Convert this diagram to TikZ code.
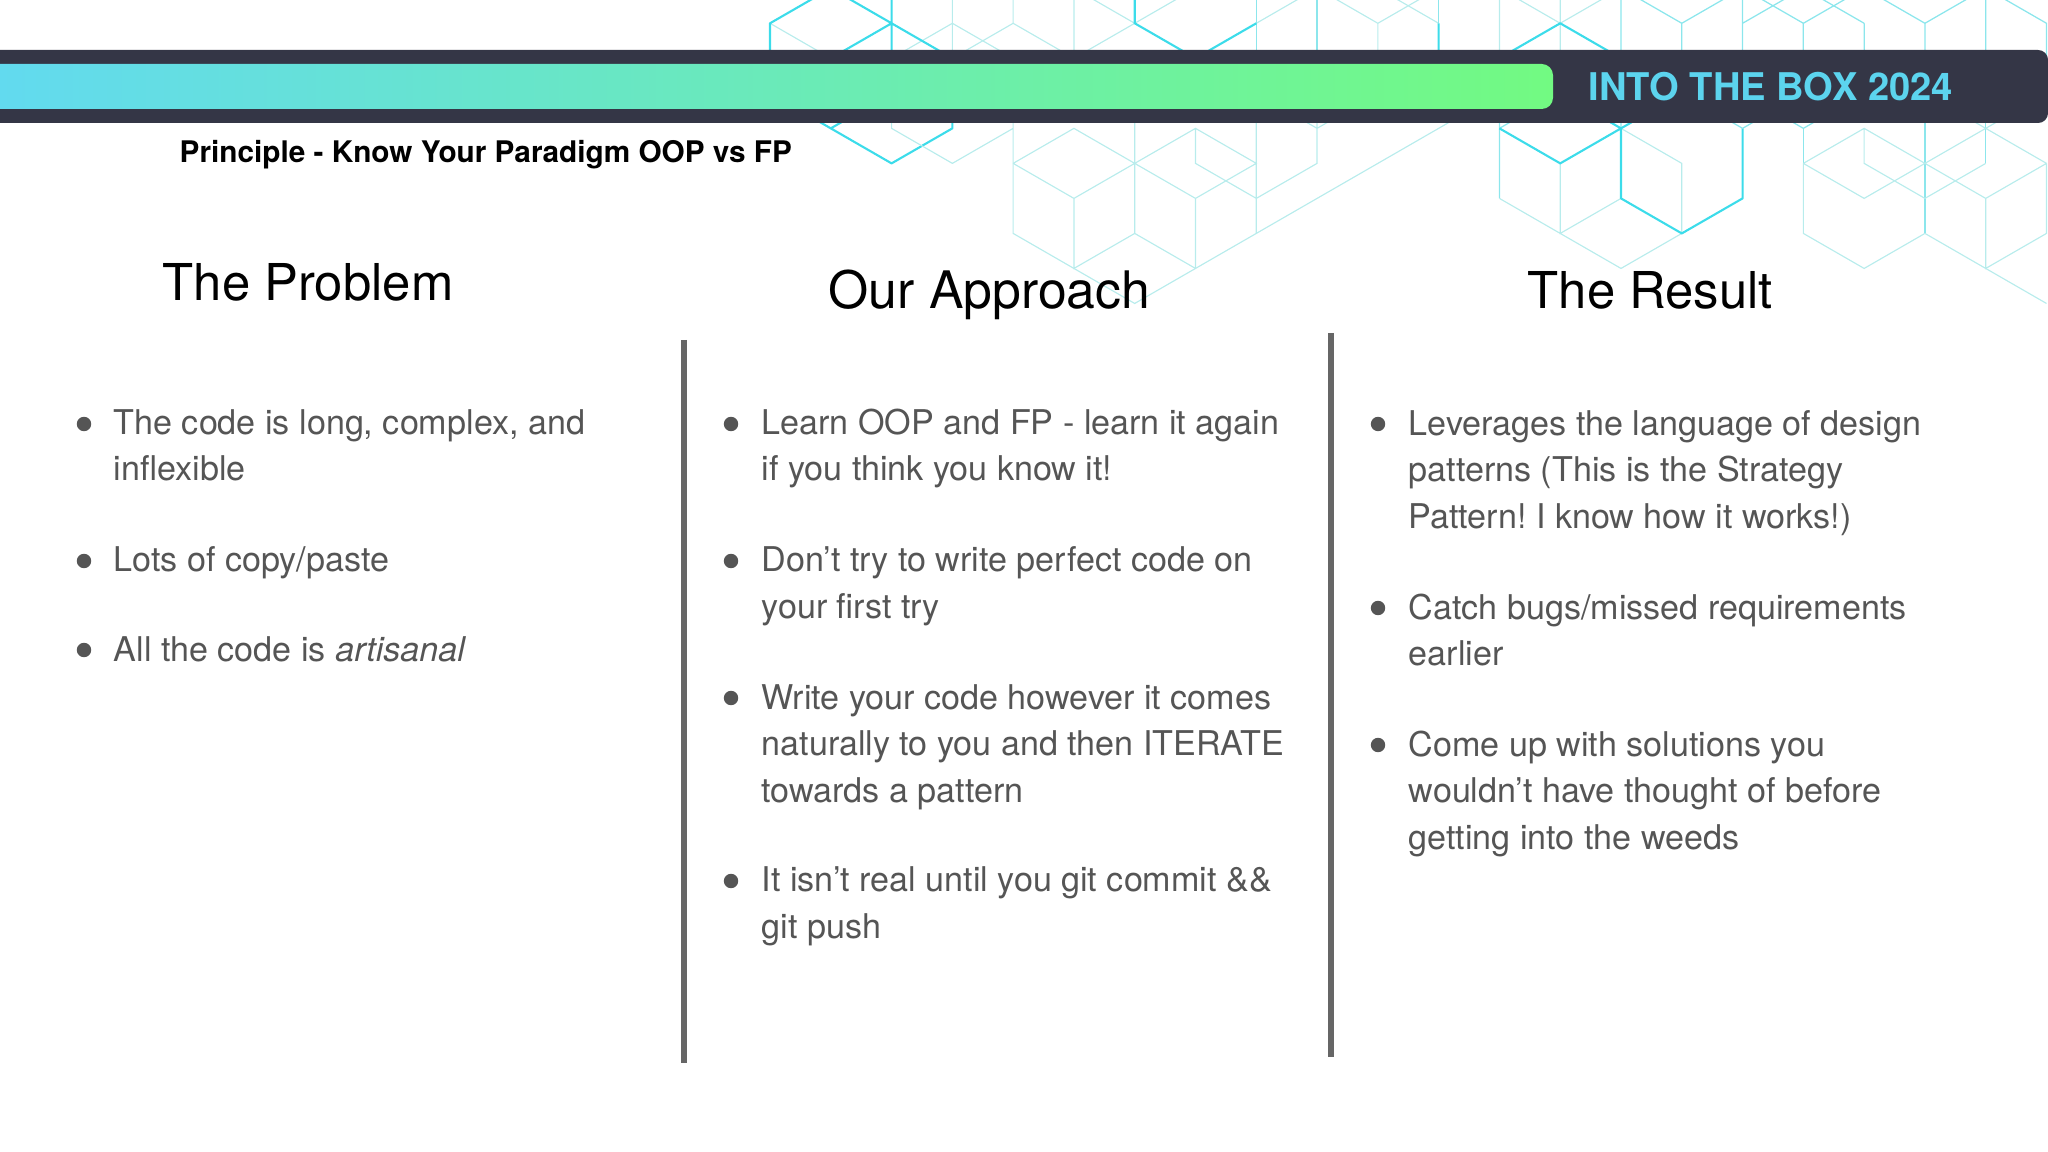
\documentclass[tikz,border=0pt]{standalone}
\usepackage{xcolor}
\usepackage{fontspec}
\setmainfont{TeX Gyre Heros}
\usetikzlibrary{positioning}
\frenchspacing
\definecolor{barnavy}{HTML}{343646}
\definecolor{barcyan}{HTML}{62DAEF}
\definecolor{bargreen}{HTML}{72FA82}
\definecolor{boxblue}{HTML}{5CD4EE}
\definecolor{bodygrey}{HTML}{555555}
\definecolor{rulegrey}{HTML}{666666}
\definecolor{hexpale}{HTML}{B8ECEC}
\definecolor{hexmid}{HTML}{8CE6EC}
\definecolor{hexbright}{HTML}{3CDCEA}
\tikzset{
  palehex/.style={hexpale, line width=0.33pt},
  midhex/.style={hexmid, line width=0.36pt},
  brighthex/.style={hexbright, line width=0.6pt, line join=round},
  titlelabel/.style={inner sep=0, anchor=base west, text=black, font=\fontsize{14.45}{17}\selectfont},
  bodylabel/.style={inner sep=0, anchor=base west, text=bodygrey, align=left, font=\fontsize{9.7}{13.2}\selectfont},
  bulletdot/.style={circle, fill=bodygrey, inner sep=0, minimum size=4.1pt},
  colrule/.style={rulegrey, line width=1.65pt}
}

\begin{document}
\begin{tikzpicture}[x=0.01cm, y=-0.01cm]
\useasboundingbox (0,0) rectangle (2048,1152);

\begin{scope}
\clip (0,0) rectangle (2048,1152);
\begin{scope}[shift={(770,23.3)}, x=0.6075cm, y=-0.35cm]
% above the bar
\draw[palehex] (0,0) -- (1,1) (3,-1) -- (3,2) (2,1) -- (3,0) -- (4,1) (3,1) -- (4,0) -- (5,1) (4,-1) -- (4,0) (5,-1) -- (5,2);
\draw[palehex] (5,-1) -- (6,0) -- (7,-1) (5,1) -- (6,0) (8,0) -- (9,-1) (9,-1) -- (10,0) -- (10,2) (10,0) -- (11,-1) (12,-1) -- (12,2);
\draw[palehex] (10,-1) -- (11,0) (12,-1) -- (13,0) -- (14,-1) (13,-1) -- (13,2);
\draw[midhex] (14,-1) -- (14,2) (14,-1) -- (15,0) -- (16,-1) (15,0) -- (15,2) (16,-1) -- (16,2) (16,0) -- (17,-1) (16,-1) -- (17,0) -- (18,-1);
\draw[midhex] (17,-1) -- (18,0) (17,0) -- (17,2) (18,0) -- (18,2) (18,-1) -- (19,0) -- (20,-1) (19,0) -- (19,2) (20,-1) -- (20,2) (20,-1) -- (21,0) -- (21,2);
\draw[midhex] (8,-1) -- (8,2) (9,-1) -- (9,2) (11,-1) -- (11,0);
\draw[brighthex] (0,2) -- (0,0) -- (1,-1) -- (2,0) -- (3,1) (2,-1) -- (2,2) (2,0) -- (1,1) (6,-1) -- (6,0) -- (7,1) (8,0) -- (7,1) (11,0) -- (11,2) (12,1) -- (13,0) -- (14,1);
% below the bar
\draw[brighthex] (0,2) -- (2,4) -- (3,3) -- (3,2) (1,3) -- (2,2);
\draw[palehex] (2,2) -- (2,3) -- (3,4) -- (4,3) (4,2) -- (4,6) -- (6,8) -- (8,6) -- (11,3) -- (11.5,2.5);
\draw[palehex] (4,4) -- (5,3) -- (6,4) -- (5,5) -- (4,4) (5,5) -- (5,7) -- (6,6) -- (7,7) (6,2) -- (6,6);
\draw[palehex] (6,4) -- (7,3) -- (8,4) -- (7,5) -- (6,4) (7,3) -- (7,4) -- (8,5) -- (9,4) -- (9,2) (7,5) -- (7,7) (8,2) -- (8,6) (8,2) -- (9,3) -- (10,2);
\draw[midhex] (12,2) -- (12,5) (14,2.5) -- (14,3) (12,3) -- (12.5,2.5);
\draw[palehex] (12,5) -- (13,6) -- (14,7) -- (15,6) (13,4) -- (13,6) -- (14,5) (14,3) -- (15,4) -- (15,6);
\draw[brighthex] (12,3) -- (13,4) -- (14,3) -- (14,5) -- (15,6) -- (16,5) -- (16,3) (14,3) -- (14.5,2.5) (13.5,2.5) -- (14,3);
\draw[midhex] (16,3) -- (15.5,2.5) (16,3) -- (16.5,2.5) (16.5,2.5) -- (17,3) -- (17.5,2.5);
\draw[midhex] (17,3) -- (17,4) (19,2) -- (19,6) (20,2) -- (20,4);
\draw[palehex] (17,4) -- (18,3) -- (19,4) -- (18,5) -- (17,4) (17,4) -- (17,6) -- (18,7) -- (19,6) -- (20,7) -- (21,8) (18,3) -- (18,4) -- (19,5) -- (20,4);
\draw[palehex] (19,4) -- (20,3) -- (21,4) (19,4) -- (20,5) -- (21,4) (20,5) -- (20,7) -- (21,6) -- (21,4) (19.5,2.5) -- (20,3) -- (20.5,2.5);
\end{scope}
\end{scope}

\fill[barnavy] (0,50) [rounded corners=2.8pt] -- (2048,50) -- (2048,123) [sharp corners] -- (0,123) -- cycle;
\shade[left color=barcyan, right color=bargreen] (0,64) [rounded corners=3.2pt] -- (1553,64) -- (1553,109) [sharp corners] -- (0,109) -- cycle;
\node[inner sep=0, anchor=base west, text=boxblue, font=\fontsize{10.85}{13}\selectfont\bfseries] (boxlabel) at (1588,101) {INTO THE BOX 2024};
\node[inner sep=0, anchor=base west, text=black, font=\fontsize{8.46}{10}\selectfont\bfseries] (principle) at (179,163) {Principle - Know Your Paradigm OOP vs FP};

\draw[colrule] (684,340) -- (684,1063);
\draw[colrule] (1331,333) -- (1331,1057);

\node[titlelabel] (problemhead) at (162,301) {The Problem};
\node[titlelabel, font=\fontsize{14.7}{17}\selectfont] (approachhead) at (828,309) {Our Approach};
\node[titlelabel] (resulthead) at (1527,309) {The Result};

\node[bulletdot] (dotAa) at (84,424) {};
\node[bodylabel] (itemAa) at (113,481) {The code is long, complex, and\\inflexible};
\node[bulletdot] (dotAb) at (84,561) {};
\node[bodylabel] (itemAb) at (113,571) {Lots of copy/paste};
\node[bulletdot] (dotAc) at (84,650) {};
\node[bodylabel] (itemAc) at (113,661) {All the code is \textit{artisanal}};

\node[bulletdot] (dotBa) at (731,424) {};
\node[bodylabel] (itemBa) at (761,481) {Learn OOP and FP - learn it again\\if you think you know it!};
\node[bulletdot] (dotBb) at (731,561) {};
\node[bodylabel] (itemBb) at (761,618) {Don’t try to write perfect code on\\your first try};
\node[bulletdot] (dotBc) at (731,698) {};
\node[bodylabel] (itemBc) at (761,802) {Write your code however it comes\\naturally to you and then ITERATE\\towards a pattern};
\node[bulletdot] (dotBd) at (731,881) {};
\node[bodylabel] (itemBd) at (761,938) {It isn’t real until you git commit \&\&\\git push};

\node[bulletdot] (dotCa) at (1378,424) {};
\node[bodylabel] (itemCa) at (1408,528) {Leverages the language of design\\patterns (This is the Strategy\\Pattern! I know how it works!)};
\node[bulletdot] (dotCb) at (1378,608) {};
\node[bodylabel] (itemCb) at (1408,666) {Catch bugs/missed requirements\\earlier};
\node[bulletdot] (dotCc) at (1378,745) {};
\node[bodylabel] (itemCc) at (1408,849) {Come up with solutions you\\wouldn’t have thought of before\\getting into the weeds};
\end{tikzpicture}
\end{document}
